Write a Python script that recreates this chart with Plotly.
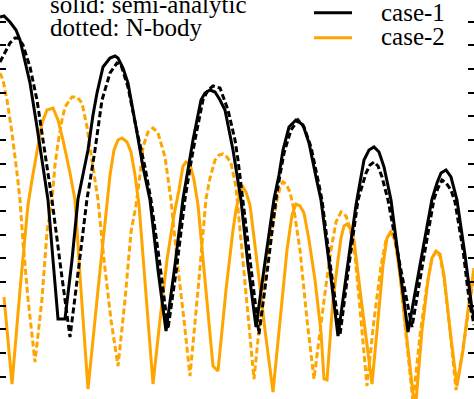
import plotly.graph_objects as go

c1_sa_x = [0, 4, 10, 16, 20, 25, 30, 37, 43, 48, 53, 58, 65, 72, 78, 83, 88, 93, 97, 103, 110, 115, 118, 123, 128, 136, 143, 150, 158, 166, 175, 183, 188, 193, 201, 205, 210, 215, 220, 225, 233, 238, 241, 248, 256, 265, 274, 279, 283, 289, 296, 303, 309, 316, 321, 330, 338, 347, 356, 364, 369, 374, 379, 384, 391, 400, 408, 420, 432, 437, 441, 446, 451, 457, 465, 472, 474]
c1_sa_y = [17, 16, 22, 30, 40, 60, 83, 127, 167, 200, 260, 319, 319, 260, 199, 175, 150, 115, 93, 67, 58, 56, 58, 68, 83, 127, 167, 200, 270, 331, 265, 199, 170, 140, 100, 93, 90, 92, 100, 110, 150, 180, 200, 265, 327, 262, 199, 175, 150, 127, 120, 125, 143, 177, 200, 270, 336, 270, 205, 160, 150, 147, 152, 167, 200, 270, 332, 265, 199, 183, 173, 170, 177, 200, 255, 309, 318]

c1_nb_x = [0, 5, 10, 15, 18, 23, 30, 37, 43, 48, 52, 61, 70, 79, 87, 91, 95, 102, 110, 117, 121, 128, 136, 145, 151, 160, 168, 177, 185, 190, 195, 203, 208, 213, 220, 228, 235, 238, 243, 251, 259, 268, 276, 280, 284, 291, 298, 304, 311, 318, 322, 331, 340, 349, 358, 366, 370, 374, 378, 382, 388, 400, 412, 423, 434, 438, 442, 446, 451, 455, 463, 469, 474]
c1_nb_y = [62, 53, 43, 38, 38, 45, 67, 100, 140, 173, 200, 270, 337, 265, 199, 175, 150, 100, 73, 63, 65, 87, 127, 167, 200, 265, 329, 265, 199, 168, 140, 100, 90, 86, 88, 110, 140, 160, 200, 270, 334, 265, 199, 175, 153, 130, 120, 127, 147, 180, 200, 270, 335, 265, 200, 173, 165, 162, 166, 177, 200, 265, 327, 262, 199, 188, 180, 183, 190, 202, 250, 299, 325]

c2_sa_x = [4, 12, 20, 28, 32, 37, 42, 47, 53, 58, 63, 70, 75, 81, 88, 98, 106, 110, 114, 118, 122, 127, 131, 135, 139, 146, 153, 160, 167, 174, 179, 183, 186, 190, 194, 198, 205, 213, 218, 226, 233, 236, 240, 243, 246, 250, 258, 265, 273, 280, 287, 292, 296, 300, 304, 309, 315, 321, 324, 327, 333, 338, 341, 344, 347, 350, 354, 360, 366, 372, 378, 383, 387, 391, 395, 400, 407, 414, 416, 422, 428, 432, 436, 440, 444, 450, 457, 463, 468, 474]
c2_sa_y = [297, 384, 290, 205, 180, 150, 123, 110, 108, 120, 140, 173, 200, 290, 389, 290, 210, 175, 150, 140, 138, 142, 152, 175, 205, 295, 384, 320, 260, 215, 190, 166, 162, 164, 180, 205, 280, 366, 371, 290, 230, 210, 192, 187, 192, 205, 270, 330, 392, 320, 250, 215, 204, 206, 213, 240, 280, 332, 379, 380, 300, 260, 238, 226, 224, 228, 240, 290, 340, 384, 320, 265, 238, 232, 240, 275, 340, 402, 402, 330, 280, 258, 251, 254, 275, 330, 386, 350, 310, 268]

c2_nb_x = [0, 3, 7, 12, 17, 20, 23, 28, 35, 42, 47, 52, 55, 58, 62, 65, 72, 77, 82, 87, 93, 98, 104, 111, 118, 125, 131, 136, 140, 143, 148, 153, 158, 165, 171, 177, 184, 190, 198, 206, 210, 215, 219, 223, 227, 231, 236, 241, 247, 254, 262, 270, 277, 280, 283, 286, 290, 294, 300, 307, 314, 320, 326, 331, 336, 341, 346, 350, 355, 361, 367, 374, 381, 386, 390, 394, 398, 405, 413, 420, 427, 432, 436, 440, 444, 450, 456, 462, 468, 474]
c2_nb_y = [73, 80, 100, 133, 173, 200, 242, 299, 362, 299, 232, 200, 165, 143, 120, 107, 97, 97, 103, 127, 167, 200, 260, 320, 366, 300, 232, 205, 175, 147, 132, 128, 133, 157, 200, 260, 320, 376, 290, 199, 178, 160, 155, 154, 157, 163, 187, 240, 310, 379, 300, 240, 200, 188, 182, 184, 192, 210, 250, 320, 379, 330, 285, 250, 222, 212, 216, 228, 255, 320, 386, 320, 266, 240, 233, 236, 255, 325, 402, 335, 285, 258, 252, 256, 278, 330, 390, 355, 315, 275]

series_names = ["case-1", "case-2"]
series_colors = ["black", "orange"]
note_lines = ["solid: semi-analytic", "dotted: N-body"]

W, H = 474, 399
FONT = "Liberation Serif"
FS = 25

fig = go.Figure()
fig.add_trace(go.Scatter(x=c2_nb_x, y=c2_nb_y, mode="lines",
                         line=dict(color=series_colors[1], width=3, dash="6px,3px"),
                         showlegend=False))
fig.add_trace(go.Scatter(x=c2_sa_x, y=c2_sa_y, mode="lines",
                         line=dict(color=series_colors[1], width=3),
                         showlegend=False))
fig.add_trace(go.Scatter(x=c1_nb_x, y=c1_nb_y, mode="lines",
                         line=dict(color=series_colors[0], width=3, dash="6px,3px"),
                         showlegend=False))
fig.add_trace(go.Scatter(x=c1_sa_x, y=c1_sa_y, mode="lines",
                         line=dict(color=series_colors[0], width=3),
                         showlegend=False))

# notes at top-left
for txt, ym in zip(note_lines, [4.4, 27.0]):
    fig.add_annotation(text=txt, xref="paper", yref="paper",
                       x=48 / W, y=1 - ym / H, xanchor="left", yanchor="middle",
                       showarrow=False, font=dict(family=FONT, size=FS, color="black"))

# legend drawn as key lines + labels
for name, col, yl, yt in zip(series_names, series_colors, [12.7, 37.7], [12.6, 36.6]):
    fig.add_shape(type="line", xref="paper", yref="paper",
                  x0=314 / W, x1=352 / W, y0=1 - yl / H, y1=1 - yl / H,
                  line=dict(color=col, width=3))
    fig.add_annotation(text=name, xref="paper", yref="paper",
                       x=379 / W, y=1 - yt / H, xanchor="left", yanchor="middle",
                       showarrow=False, font=dict(family=FONT, size=FS, color="black"))

fig.update_layout(width=W, height=H, margin=dict(l=0, r=0, t=0, b=0),
                  paper_bgcolor="white", plot_bgcolor="white", showlegend=False)
fig.update_xaxes(range=[0, W], visible=False, showgrid=False, zeroline=False)
fig.update_yaxes(range=[H, 0], showgrid=False, zeroline=False, showline=False,
                 showticklabels=False, ticks="inside", ticklen=6, tickwidth=1.5,
                 tickcolor="black", mirror="ticks", tick0=21.7, dtick=23.67)
fig.write_html("out.html", config={"displayModeBar": False},
               post_script="document.body.style.margin='0';document.body.style.overflow='hidden';")
